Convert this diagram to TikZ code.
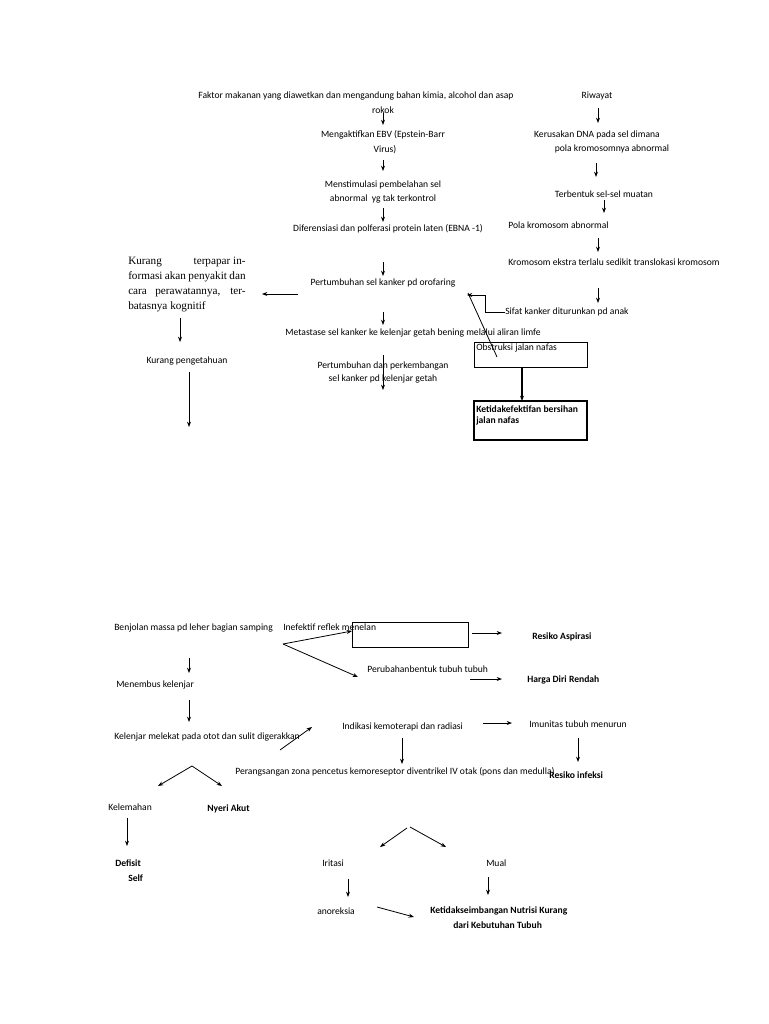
\documentclass[tikz,border=0pt]{standalone}
\usepackage{fontspec}
\setmainfont{Carlito}
\newfontfamily\serifb{Liberation Serif}
\usetikzlibrary{arrows.meta}
\begin{document}
\begin{tikzpicture}[x=0.75pt,y=-0.75pt,
  every node/.style={font=\fontsize{7.2}{8.6}\selectfont,inner sep=0pt},
  bd/.style={font=\fontsize{7.2}{8.6}\selectfont\bfseries},
  arr/.style={-{Stealth[length=4pt,width=3pt]},line width=0.6pt},
  ln/.style={line width=0.6pt}]
\useasboundingbox (0,0) rectangle (768,1024);
% top left column
\node (f1) at (356,96) {Faktor makanan yang diawetkan dan mengandung bahan kimia, alcohol dan asap};
\node (f2) at (383,110) {rokok};
\node (m1) at (383,135) {Mengaktifkan EBV (Epstein-Barr};
\node (m2) at (385,150) {Virus)};
\node (s1) at (383,185) {Menstimulasi pembelahan sel};
\node (s2) at (383,199) {abnormal\ \ yg tak terkontrol};
\node (d1) at (388,229) {Diferensiasi dan polferasi protein laten (EBNA -1)};
\node (p1) at (383,283) {Pertumbuhan sel kanker pd orofaring};
\node (mt) at (413,333) {Metastase sel kanker ke kelenjar getah bening melalui aliran limfe};
\node (pp1) at (383,366) {Pertumbuhan dan perkembangan};
\node (pp2) at (383,379) {sel kanker pd kelenjar getah};
\draw[arr] (383,113) -- (383,125);
\draw[arr] (383,160) -- (383,171);
\draw[arr] (383,208) -- (383,222);
\draw[arr] (383,262) -- (383,276);
\draw[arr] (383,312) -- (383,325);
\draw[arr] (383,355) -- (383,390);
% right column
\node (r0) at (597,96) {Riwayat};
\node (r1) at (597,135) {Kerusakan DNA pada sel dimana};
\node (r2) at (612,149) {pola kromosomnya abnormal};
\node (r3) at (604,194) {Terbentuk sel-sel muatan};
\node[anchor=west] (r4) at (508,225) {Pola kromosom abnormal};
\node[anchor=west] (r5) at (508,262) {Kromosom ekstra terlalu sedikit translokasi kromosom};
\node[anchor=west] (r6) at (505,312) {Sifat kanker diturunkan pd anak};
\draw[arr] (598,108) -- (598,123);
\draw[arr] (596,163) -- (596,177);
\draw[arr] (604,200) -- (604,213);
\draw[arr] (598,238) -- (598,252);
\draw[arr] (598,288) -- (598,303);
\draw[arr] (r6.west) -- (485,312) -- (485,295) -- (467,295);
\draw[ln] (468,293) -- (497,357);
\draw[ln] (474,342) rectangle (587,367);
\node[anchor=north west] (ob) at (476,344) {Obstruksi jalan nafas};
\draw[arr,line width=0.9pt] (522,367) -- (522,401);
\draw[line width=1.6pt] (474,401) rectangle (587,440);
\node[anchor=north west,align=left,bd] (kb) at (476,405) {Ketidakefektifan bersihan\\jalan nafas};
% left
\node[anchor=north west,text width=88pt,align=justify,font=\serifb\fontsize{8.4}{11.2}\selectfont] (kt) at (128,257) {Kurang\hfill terpapar informasi akan penyakit dan cara perawatannya, terbatasnya kognitif};
\draw[arr] (298,294) -- (262,294);
\draw[arr] (180,318) -- (180,342);
\node (kp) at (187,361) {Kurang pengetahuan};
\draw[arr] (189,372) -- (189,427);
% bottom
\node[anchor=west] (b1) at (114,628) {Benjolan massa pd leher bagian samping};
\node[anchor=west] (b2) at (283,627) {Inefektif reflek menelan};
\draw[ln] (352,622) rectangle (468,647);
\draw[arr] (283,644) -- (352,631);
\draw[arr] (283,644) -- (358,677);
\draw[arr] (472,633) -- (502,633);
\node[anchor=west,bd] (ra) at (532,637) {Resiko Aspirasi};
\node[anchor=west] (pb) at (367,669) {Perubahanbentuk tubuh tubuh};
\draw[arr] (470,679) -- (502,679);
\node[anchor=west,bd] (hd) at (527,680) {Harga Diri Rendah};
\draw[arr] (189,658) -- (189,673);
\node[anchor=west] (mk) at (116,685) {Menembus kelenjar};
\draw[arr] (189,700) -- (189,722);
\node[anchor=west] (km) at (114,737) {Kelenjar melekat pada otot dan sulit digerakkan};
\draw[arr] (280,750) -- (312,727);
\node[anchor=west] (ik) at (342,727) {Indikasi kemoterapi dan radiasi};
\draw[arr] (483,723) -- (512,723);
\node[anchor=west] (im) at (529,724) {Imunitas tubuh menurun};
\draw[arr] (402,738) -- (402,764);
\draw[arr] (578,738) -- (578,762);
\node[anchor=west] (pz) at (235,772) {Perangsangan zona pencetus kemoreseptor diventrikel IV otak (pons dan medulla)};
\node[anchor=west,bd] (ri) at (549,775) {Resiko infeksi};
\draw[arr] (192,766) -- (158,786);
\draw[arr] (192,766) -- (222,786);
\node[anchor=west] (kl) at (108,807) {Kelemahan};
\node[anchor=west,bd] (na) at (207,809) {Nyeri Akut};
\draw[arr] (127,818) -- (127,846);
\node[anchor=west,bd] (df) at (115,863) {Defisit};
\node[anchor=west,bd] (sf) at (128,878) {Self};
\draw[arr] (407,828) -- (380,847);
\draw[arr] (410,827) -- (446,847);
\node[anchor=west] (ir) at (322,863) {Iritasi};
\node[anchor=west] (mu) at (486,863) {Mual};
\draw[arr] (348,879) -- (348,897);
\draw[arr] (488,877) -- (488,895);
\node[anchor=west] (an) at (317,911) {anoreksia};
\draw[arr] (377,907) -- (414,917);
\node[anchor=west,bd] (kn1) at (430,911) {Ketidakseimbangan Nutrisi Kurang};
\node[anchor=west,bd] (kn2) at (453,925) {dari Kebutuhan Tubuh};
\end{tikzpicture}
\end{document}
